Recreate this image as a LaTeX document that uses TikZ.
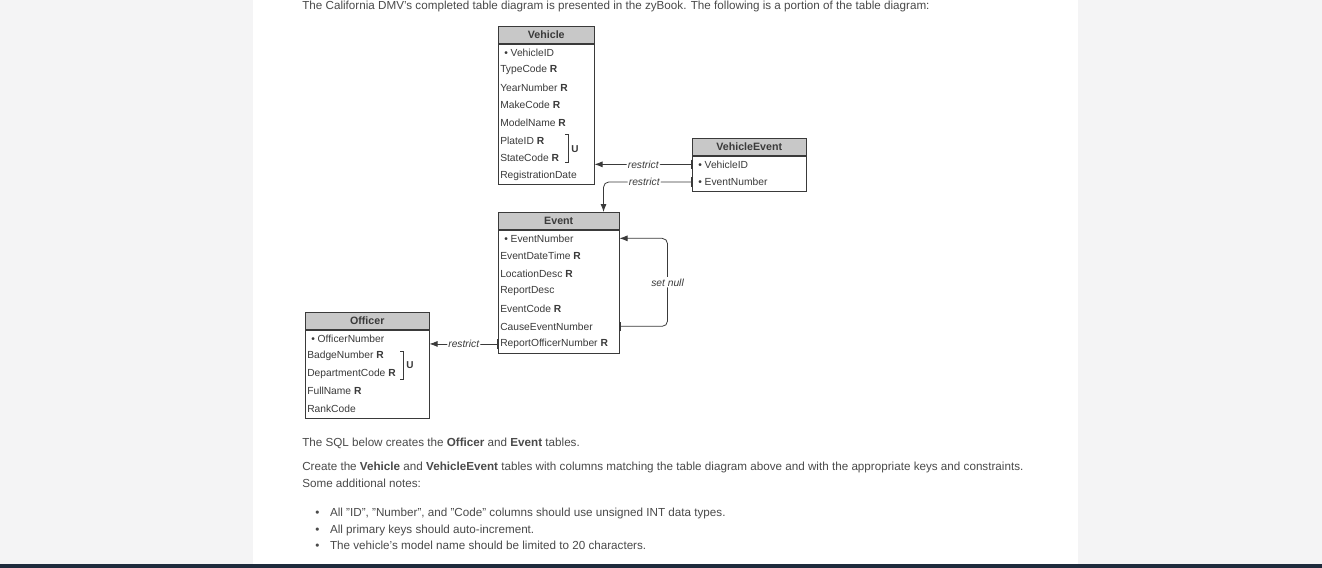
\documentclass[tikz,border=0pt]{standalone}
\usepackage{fontspec}
\setmainfont{Liberation Sans}
\usetikzlibrary{arrows.meta, positioning, calc}

\definecolor{pagebg}{HTML}{F4F4F5}
\definecolor{headgray}{HTML}{C8C8C8}
\definecolor{inkgray}{HTML}{3A3A3A}
\definecolor{textgray}{HTML}{4A4A4A}
\definecolor{barnavy}{HTML}{1E2B3C}

\newcommand{\R}{\textbf{R}}
\newcommand{\pk}[1]{\hspace{3pt}\textbullet\ #1}
\newcommand{\dq}{\symbol{34}}

% table: name, top-left, width (pt), title, rows, row count
\newcommand{\erTable}[6]{%
  \node[tblhead, minimum width=#3, anchor=north west] (#1) at #2 {#4};
  \node[tblbody, minimum width=#3, minimum height=#6*13.2pt, anchor=north west] (#1-body) at (#1.south west) {};
  \foreach \txt [count=\i] in {#5} {
    \node[tblrow] (#1-\i) at ($(#1.south west)+(2,\i*17.6-8.8)$) {\txt};
  }
}

\begin{document}
\begin{tikzpicture}[
    x=0.75pt, y=-0.75pt,
    tblhead/.style={draw=inkgray, fill=headgray, minimum height=12.75pt, inner sep=0pt,
      font=\fontsize{8}{9}\selectfont\bfseries, text=inkgray},
    tblbody/.style={draw=inkgray, fill=white, inner sep=0pt},
    tblrow/.style={anchor=west, inner sep=0pt, font=\fontsize{7.7}{8}\selectfont, text=inkgray},
    fk/.style={draw=inkgray, semithick, rounded corners=4pt,
      {Bar[width=7pt]}-{Latex[length=6pt, width=4.5pt]}},
    fklabel/.style={fill=white, inner sep=1pt, font=\fontsize{7.7}{8}\selectfont\itshape, text=inkgray},
    para/.style={anchor=base west, inner sep=0pt, font=\fontsize{8.75}{10}\selectfont, text=textgray}
  ]
  \useasboundingbox (0,0) rectangle (1322,568);
  \fill[pagebg] (0,0) rectangle (1322,568);
  \fill[white] (253,0) rectangle (1078,568);
  \fill[barnavy] (0,564) rectangle (1322,568);

  % Tables
  \erTable{Vehicle}{(498,26)}{72pt}{Vehicle}{\pk{VehicleID}, TypeCode \R, YearNumber \R, MakeCode \R, ModelName \R, PlateID \R, StateCode \R, RegistrationDate}{8}
  \erTable{VehicleEvent}{(692,138)}{85.5pt}{VehicleEvent}{\pk{VehicleID}, \pk{EventNumber}}{2}
  \erTable{Event}{(498,212)}{90.75pt}{Event}{\pk{EventNumber}, EventDateTime \R, LocationDesc \R, ReportDesc, EventCode \R, CauseEventNumber, ReportOfficerNumber \R}{7}
  \erTable{Officer}{(305,312)}{93pt}{Officer}{\pk{OfficerNumber}, BadgeNumber \R, DepartmentCode \R, FullName \R, RankCode}{5}

  % Unique brackets
  \draw[inkgray, semithick] (565,134) -- (568,134) -- (568,162) -- (565,162);
  \node[font=\fontsize{7.5}{8}\selectfont\bfseries, text=inkgray] (vehU) at (575,149) {U};
  \draw[inkgray, semithick] (400,351) -- (403,351) -- (403,379) -- (400,379);
  \node[font=\fontsize{7.5}{8}\selectfont\bfseries, text=inkgray] (offU) at (410,365) {U};

  % Foreign keys
  \draw[fk] (VehicleEvent.west |- VehicleEvent-1) -- node[fklabel] {restrict} (Vehicle.east |- VehicleEvent-1);
  \coordinate (evtop) at ($(Event.north east)+(-16,0)$);
  \draw[fk] (VehicleEvent.west |- VehicleEvent-2) -| node[fklabel, pos=0.27] {restrict} (evtop);
  \draw[fk] (Event.east |- Event-6) -- ++(48,0) |- node[fklabel, pos=0.25] {set null} (Event.east |- Event-1);
  \draw[fk] (Event.west |- Event-7) -- node[fklabel] {restrict} (Officer.east |- Event-7);

  % Text
  \node[para] (intro) at (302,9) {The California DMV's completed table diagram is presented in the zyBook. The following is a portion of the table diagram:};
  \node[para] (sqlnote) at (302,446) {The SQL below creates the \textbf{Officer} and \textbf{Event} tables.};
  \node[para] (task1) at (302,470) {Create the \textbf{Vehicle} and \textbf{VehicleEvent} tables with columns matching the table diagram above and with the appropriate keys and constraints.};
  \node[para] (task2) at (302,487) {Some additional notes:};
  \node[para] (note1) at (315,516) {\textbullet\hspace{8pt}All \dq ID\dq, \dq Number\dq, and \dq Code\dq\ columns should use unsigned INT data types.};
  \node[para] (note2) at (315,533) {\textbullet\hspace{8pt}All primary keys should auto-increment.};
  \node[para] (note3) at (315,549) {\textbullet\hspace{8pt}The vehicle's model name should be limited to 20 characters.};
\end{tikzpicture}
\end{document}
